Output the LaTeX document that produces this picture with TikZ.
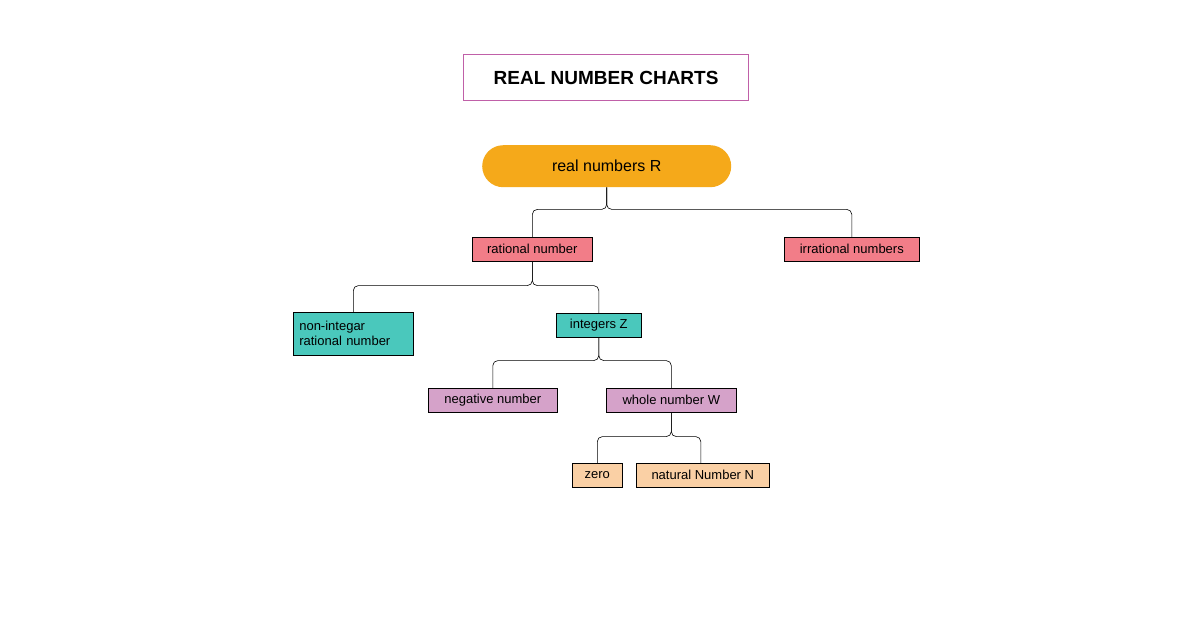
\documentclass[tikz,border=0pt]{standalone}
\usepackage{fontspec}
\setmainfont{Liberation Sans}
\definecolor{cOr}{HTML}{F5A91A}
\definecolor{cRed}{HTML}{F27D88}
\definecolor{cTeal}{HTML}{4AC8BC}
\definecolor{cPur}{HTML}{D5A2C9}
\definecolor{cPea}{HTML}{FAD0A5}
\definecolor{cTit}{HTML}{C060A8}
\begin{document}
\begin{tikzpicture}[x=1pt,y=-1pt,
  box/.style={draw=black,line width=0.6pt,inner sep=0pt,font=\fontsize{13}{15}\selectfont,anchor=north west},
  conn/.style={draw=black,line width=0.6pt,rounded corners=5}]
\useasboundingbox[fill=white] (0,0) rectangle (1200,630);
\node[draw=cTit,line width=1.2pt,minimum width=285pt,minimum height=46pt,anchor=north west,font=\bfseries\fontsize{19}{22}\selectfont] (t) at (463,54) {REAL NUMBER CHARTS};
\node[fill=cOr,rounded corners=21pt,minimum width=249pt,minimum height=42pt,anchor=north west,inner sep=0pt,font=\fontsize{16}{19}\selectfont] (r) at (482,145) {real numbers R};
\node[box,fill=cRed,minimum width=120pt,minimum height=24pt] (rat) at (472,237) {rational number};
\node[box,fill=cRed,minimum width=135pt,minimum height=24pt] (irr) at (784,237) {irrational numbers};
\node[box,fill=cTeal,minimum width=120pt,minimum height=43pt,align=left,text width=108pt,inner xsep=6pt] (non) at (293,312) {non-integar\\rational number};
\node[box,fill=cTeal,minimum width=85pt,minimum height=24pt] (int) at (556,313) {integers Z};
\node[box,fill=cPur,minimum width=129pt,minimum height=24pt] (neg) at (428,388) {negative number};
\node[box,fill=cPur,minimum width=130pt,minimum height=24pt] (who) at (606,388) {whole number W};
\node[box,fill=cPea,minimum width=50pt,minimum height=24pt] (zero) at (572,463) {zero};
\node[box,fill=cPea,minimum width=133pt,minimum height=24pt] (nat) at (636,463) {natural Number N};
\draw[conn] (r.south) -- ++(0,22) -| (rat.north);
\draw[conn] (r.south) -- ++(0,22) -| (irr.north);
\draw[conn] (rat.south) -- ++(0,24) -| (non.north);
\draw[conn] (rat.south) -- ++(0,24) -| ([xshift=0pt]int.north);
\draw[conn] (int.south) -- ++(0,23) -| (neg.north);
\draw[conn] (int.south) -- ++(0,23) -| (who.north);
\draw[conn] (who.south) -- ++(0,24) -| (zero.north);
\draw[conn] (who.south) -- ++(0,24) -| ([xshift=-2pt]nat.north);
\end{tikzpicture}
\end{document}
